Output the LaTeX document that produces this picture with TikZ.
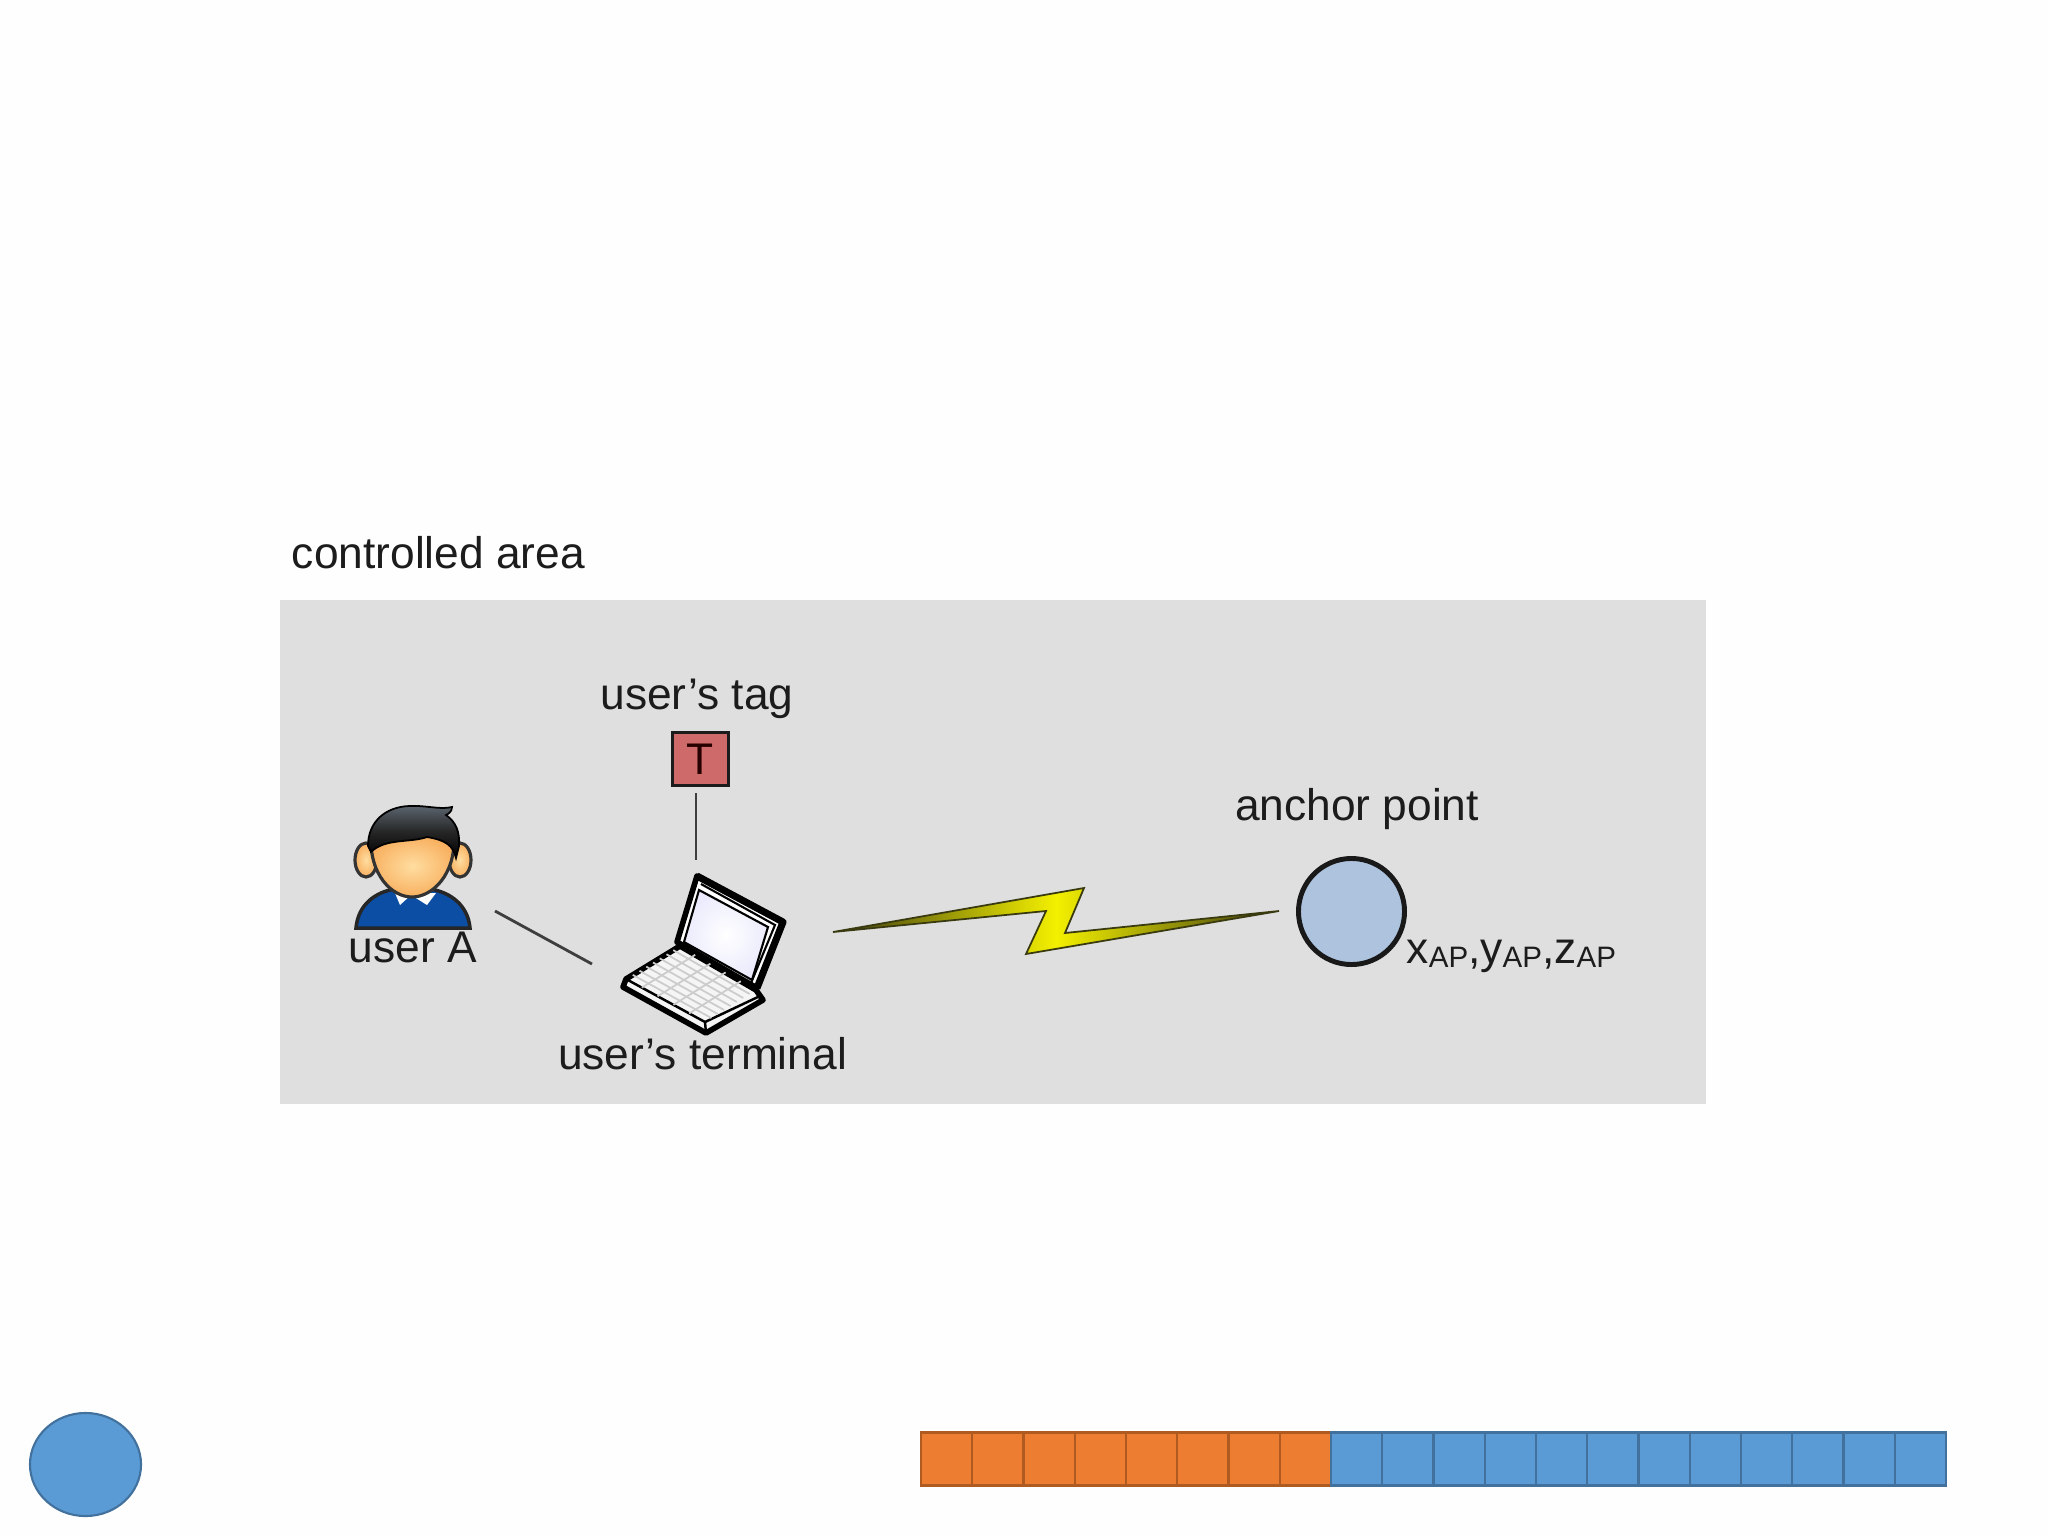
\documentclass[tikz,border=0pt]{standalone}
\usepackage{fontspec}
\setmainfont{Liberation Sans}
\usetikzlibrary{calc,shapes.geometric}

\begin{document}
\begin{tikzpicture}[x=0.01cm,y=-0.01cm]
  \definecolor{page}   {HTML}{FEFEFE};
  \definecolor{area}   {HTML}{DFDFE0};
  \definecolor{ink}    {HTML}{1C1C1C};
  \definecolor{tagred} {HTML}{CE6A6A};
  \definecolor{apblue} {HTML}{AEC3DD};
  \definecolor{orange1}{HTML}{ED7D31};
  \definecolor{orange2}{HTML}{AE5A21};
  \definecolor{blue1}  {HTML}{5B9BD5};
  \definecolor{blue2}  {HTML}{41719C};
  \definecolor{shirt}  {HTML}{0C4EA3};
  \definecolor{skin1}  {HTML}{FFDDA0};
  \definecolor{skin2}  {HTML}{F8B060};
  \definecolor{hair1}  {HTML}{5C6670};
  \definecolor{bolt1}  {HTML}{F4F000};
  \definecolor{bolt2}  {HTML}{3A3A10};
  \tikzstyle{txt}=[anchor=base,inner sep=0pt,text=ink,font=\fontsize{12.6}{15}\selectfont]
  \tikzstyle{wire}=[draw=ink!85,line width=0.8pt]
  \tikzstyle{skin}=[inner color=skin1,outer color=skin2,draw=black!80,line width=0.9pt]
  \tikzstyle{keyline}=[black!20,line width=0.5pt]
  \tikzstyle{cellorange}=[fill=orange1,draw=orange2,line width=0.6pt]
  \tikzstyle{cellblue}=[fill=blue1,draw=blue2,line width=0.6pt]
  \useasboundingbox (0,0) rectangle (2048,1536);
  \fill[page] (0,0) rectangle (2048,1536);
  \fill[area] (280,600) rectangle (1706,1104);

  \node at (438.5,568) [txt] (areatext) {controlled area};
  \node at (697,709) [txt] (tagtext) {user’s tag};
  \node at (700.5,759) [rectangle,draw=ink,line width=1pt,fill=tagred,minimum width=0.56cm,minimum height=0.53cm,inner sep=0pt,font=\fontsize{12.6}{15}\selectfont,text=black!85!red] (usertag) {T};
  \node at (413,962) [txt] (usertext) {user A};
  \node at (702.5,1069) [txt] (termtext) {user’s terminal};
  \node at (1357,820) [txt] (aptext) {anchor point};
  \node at (1351.5,911.5) [circle,draw=black!90,line width=1.4pt,fill=apblue,minimum size=1.06cm,inner sep=0pt] (anchorpoint) {};
  \newcommand{\apsub}{\raisebox{-1.2pt}{\fontsize{8.4}{10}\selectfont AP}}
  \node at (1406,963) [txt,anchor=base west] (aptcoords) {x\apsub,y\apsub,z\apsub};

  \coordinate (tagend) at (696,793);
  \coordinate (termtop) at (696,860);
  \coordinate (userend) at (495,911);
  \coordinate (termleft) at (592,964);
  \draw[wire] (tagend) -- (termtop);
  \draw[wire] (userend) -- (termleft);

  \coordinate (radioleft) at (833,932);
  \coordinate (radioright) at (1279,911);
  \path[left color=bolt2,right color=bolt2,middle color=bolt1,draw=bolt2,line width=0.5pt]
    (radioleft) -- (1084,888) -- (1065,933) -- (radioright) -- (1026,954) -- (1046,911) -- cycle;

  \fill[shirt,draw=black!85,line width=1pt] (356,928) .. controls (358,905) and (375,892) .. (395,889)
    -- (430,889) .. controls (450,892) and (468,905) .. (470,928) -- cycle;
  \fill[white] (395,893) -- (400,905) -- (411,895) -- (427,905) -- (436,893) -- cycle;
  \shade[skin] (366,860) ellipse (11 and 17);
  \shade[skin] (460,860) ellipse (11 and 17);
  \shade[skin] (371,835) .. controls (369,875) and (392,897) .. (412,897)
    .. controls (432,897) and (456,875) .. (454,835) -- cycle;
  \shade[top color=hair1,bottom color=black,middle color=black!85,draw=black,line width=0.5pt] (368,846) .. controls (368,822) and (385,807) .. (409,806)
    .. controls (425,805) and (440,810) .. (452,807) .. controls (452,812) and (448,814) .. (446,815)
    .. controls (456,822) and (460,832) .. (459,846) -- (456,858) .. controls (453,845) and (445,840) .. (427,837)
    .. controls (410,843) and (385,838) .. (371,852) -- cycle;

  \coordinate (lidA) at (697,876);
  \coordinate (lidB) at (783,922);
  \coordinate (lidC) at (757,988);
  \coordinate (lidD) at (677,942);
  \coordinate (keyA) at (626,979);
  \coordinate (keyB) at (680,946);
  \coordinate (keyC) at (756,990);
  \coordinate (keyD) at (705,1022);
  \fill[white,draw=black,line width=1.6pt,line join=round] (lidA) -- (lidB) -- (lidC) -- (lidD) -- cycle;
  \draw[black,line width=2pt,line join=round] (lidA) -- (lidB) -- (lidC);
  \draw[black,line width=0.6pt] (701,884) -- (775,925) -- (751,983);
  \shade[inner color=white,outer color=black!12!blue!8!white,draw=black,line width=0.6pt] (699,890) -- (768,927) -- (752,980) -- (684,942) -- cycle;
  \fill[white!96!black,draw=black,line width=1.6pt,line join=round] (keyA) -- (keyB) -- (keyC) -- (763,1000) -- (706,1033) -- (623,987) -- cycle;
  \draw[black,line width=0.7pt] (keyA) -- (keyD) -- (706,1033);
  \draw[black,line width=0.7pt] (keyD) -- (760,996);
  \foreach \t in {0.125,0.25,...,0.9} {
    \draw[keyline] ($(keyA)!\t!(keyB)$) -- ($(keyD)!\t!(keyC)$);
  }
  \foreach \t in {0.2,0.4,0.6,0.8} {
    \draw[keyline] ($(keyA)!\t!(keyD)$) -- ($(keyB)!\t!(keyC)$);
  }

  \node at (85.5,1464.5) [ellipse,cellblue,minimum width=1.11cm,minimum height=1.03cm,inner sep=0pt] (disc) {};
  \foreach \i in {0,...,7} {
    \node at ({921+\i*51.25+25.625},1459) [rectangle,cellorange,minimum width=0.5125cm,minimum height=0.53cm,inner sep=0pt] (cell\i) {};
  }
  \foreach \i in {8,...,19} {
    \node at ({921+\i*51.25+25.625},1459) [rectangle,cellblue,minimum width=0.5125cm,minimum height=0.53cm,inner sep=0pt] (cell\i) {};
  }
\end{tikzpicture}
\end{document}
